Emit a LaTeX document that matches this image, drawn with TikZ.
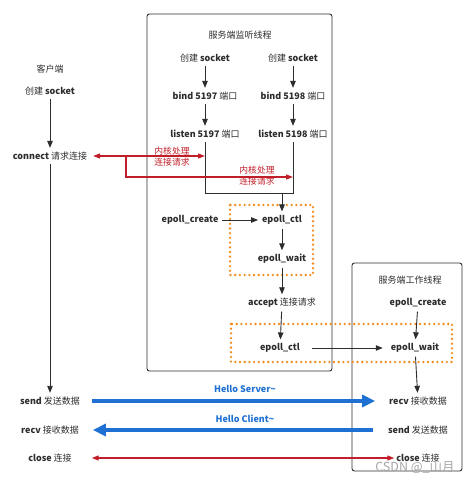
\documentclass[tikz,border=0pt]{standalone}
\usepackage{fontspec}
\setmainfont{Noto Sans CJK SC}
\usetikzlibrary{arrows.meta}
\definecolor{tx}{RGB}{45,45,45}
\definecolor{rd}{RGB}{192,30,40}
\definecolor{bl}{RGB}{30,112,210}
\definecolor{og}{RGB}{240,140,30}
\tikzset{
  lbl/.style={font=\fontsize{9}{10}\selectfont, text=tx, inner sep=1pt, outer sep=3pt},
  rlbl/.style={font=\fontsize{8.8}{11}\selectfont, text=rd, inner sep=0pt, align=center},
  blbl/.style={font=\bfseries\fontsize{9}{10}\selectfont, text=bl, inner sep=1pt},
  frame/.style={draw=tx, line width=0.9pt, rounded corners=2.5pt},
  obox/.style={draw=og, line width=2.6pt, dash pattern=on 0pt off 4.7pt, line cap=round},
  blk/.style={draw=tx, line width=0.9pt, -{Triangle[length=7pt,width=5.5pt]}},
  plain/.style={draw=tx, line width=0.9pt},
  red/.style={draw=rd, line width=1.1pt},
  redarrow/.style={red, -{Triangle[length=7pt,width=5pt]}},
  redboth/.style={red, {Triangle[length=7pt,width=5pt]}-{Triangle[length=7pt,width=5pt]}},
  blue/.style={draw=bl, line width=4pt},
}
\begin{document}
\begin{tikzpicture}[x=1pt,y=-1pt]
\useasboundingbox (0,0) rectangle (474,481);
% frames
\draw[frame] (147,14) rectangle (332,371);
\draw[frame] (352,263) rectangle (462,471);
% client column
\node[lbl] (cli) at (50,69) {客户端};
\node[lbl] (csock) at (50,91) {创建 \textbf{socket}};
\node[lbl] (conn) at (50,156) {\textbf{connect} 请求连接};
\node[lbl] (csend) at (50,401) {\textbf{send} 发送数据};
\node[lbl] (crecv) at (50,430) {\textbf{recv} 接收数据};
\node[lbl] (cclose) at (50,458) {\textbf{close} 连接};
% listen thread
\node[lbl] (ltitle) at (240,35) {服务端监听线程};
\node[lbl] (s1) at (205,58) {创建 \textbf{socket}};
\node[lbl] (b1) at (205,96) {\textbf{bind 5197} 端口};
\node[lbl] (l1) at (205,134) {\textbf{listen 5197} 端口};
\node[lbl] (s2) at (293,58) {创建 \textbf{socket}};
\node[lbl] (b2) at (293,96) {\textbf{bind 5198} 端口};
\node[lbl] (l2) at (293,134) {\textbf{listen 5198} 端口};
\coordinate (j1) at (205,193);
\coordinate (j2) at (293,193);
\coordinate (jm) at (282,193);
\node[lbl] (ecr) at (190,220) {\textbf{epoll\_create}};
\node[lbl] (ectl) at (282,220) {\textbf{epoll\_ctl}};
\node[lbl] (ewait) at (282,259) {\textbf{epoll\_wait}};
\node[lbl] (acc) at (282,303) {\textbf{accept} 连接请求};
\node[lbl] (ectl2) at (280,348) {\textbf{epoll\_ctl}};
% worker thread
\node[lbl] (wtitle) at (410,280) {服务端工作线程};
\node[lbl] (wcr) at (418,303) {\textbf{epoll\_create}};
\node[lbl] (wwait) at (415,348) {\textbf{epoll\_wait}};
\node[lbl] (wrecv) at (418,401) {\textbf{recv} 接收数据};
\node[lbl] (wsend) at (418,430) {\textbf{send} 发送数据};
\node[lbl] (wclose) at (418,458) {\textbf{close} 连接};
% orange dotted groups
\draw[obox] (230,205) rectangle (313,275);
\draw[obox] (231,324) rectangle (452,362);
% black connectors
\draw[blk] (csock) -- (conn);
\draw[blk] (conn) -- (csend);
\draw[blk] (s1) -- (b1);
\draw[blk] (b1) -- (l1);
\draw[blk] (s2) -- (b2);
\draw[blk] (b2) -- (l2);
\draw[plain] (l1.south) -- (j1) -- (j2) -- (l2.south);
\draw[blk] (jm) -- (ectl.north);
\draw[blk] (ecr) -- (ectl);
\draw[blk] (ectl) -- (ewait);
\draw[blk] (ewait) -- (acc);
\draw[blk] (acc) -- (ectl2);
\draw[blk, shorten <=8pt, shorten >=4pt] (ectl2) -- (wwait);
\draw[blk] (wcr) -- (wwait);
\draw[blk] (wwait) -- (wrecv);
% red kernel connections
\coordinate (r1) at (205,156);
\coordinate (rb) at (126,156);
\coordinate (rc) at (126,177);
\coordinate (r2) at (293,177);
\draw[redboth, shorten <=2pt] (conn.east) -- (r1);
\draw[redarrow] (rb) -- (rc) -- (r2);
\node[rlbl] (k1) at (172,157) {内核处理\\连接请求};
\node[rlbl] (k2) at (257,176) {内核处理\\连接请求};
% data exchange
\node[blbl] (hs) at (245,389) {Hello Server\textasciitilde};
\node[blbl] (hc) at (245,419) {Hello Client\textasciitilde};
\draw[blue, -{Triangle[length=13pt,width=12pt]}, shorten <=8pt, shorten >=10pt] (csend.east) -- (wrecv.west);
\draw[blue, -{Triangle[length=13pt,width=12pt]}, shorten <=11pt, shorten >=10pt] (wsend.west) -- (crecv.east);
\draw[redboth, shorten <=16pt, shorten >=-2pt] (cclose.east) -- (wclose.west);
% watermark
\node[font=\fontsize{12.5}{14}\selectfont, text=black!35, inner sep=0pt] (wm) at (415,467) {CSDN @\_山月};
\end{tikzpicture}
\end{document}
